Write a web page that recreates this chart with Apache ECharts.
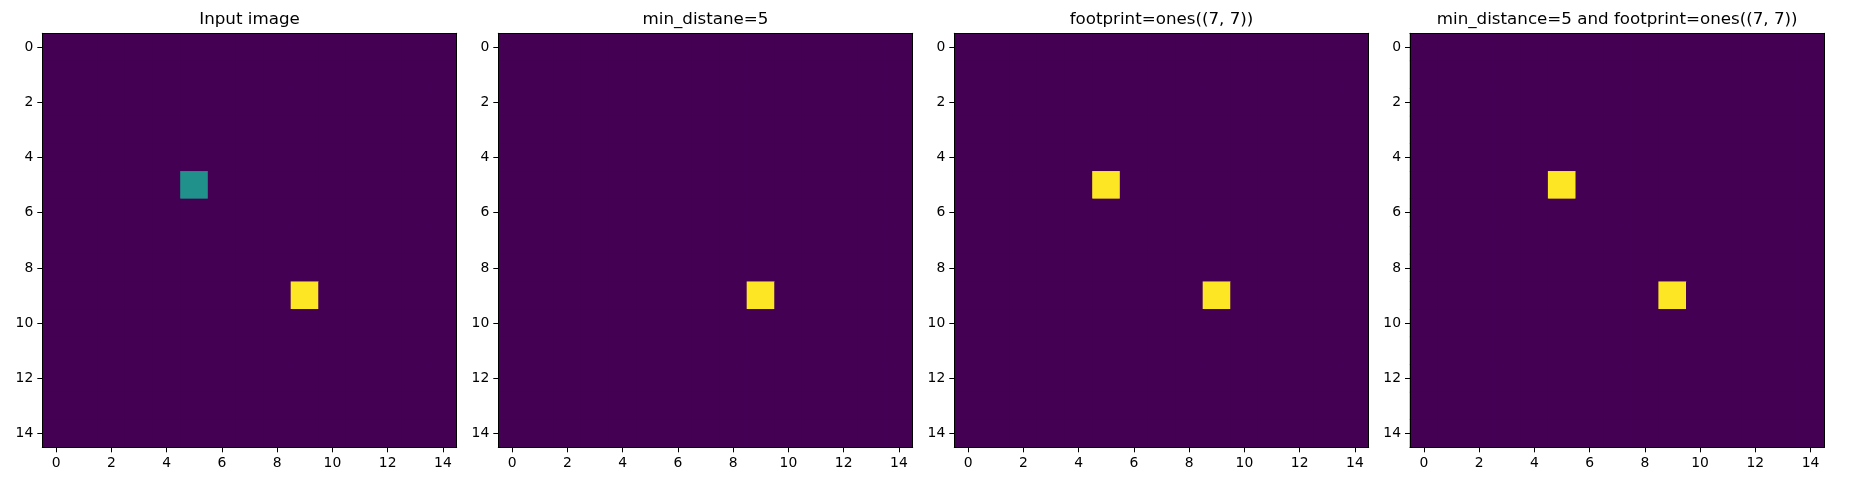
<!DOCTYPE html>
<html>
<head>
<meta charset="utf-8">
<script src="https://cdn.jsdelivr.net/npm/echarts@6/dist/echarts.min.js"></script>
<style>
  html, body { margin: 0; padding: 0; background: #fff; }
  #chart { width: 1861px; height: 480px; }
</style>
</head>
<body>
<div id="chart"></div>
<script>
// ---- Data ----
const colLabels = ['0','1','2','3','4','5','6','7','8','9','10','11','12','13','14'];
const rowLabels = ['0','1','2','3','4','5','6','7','8','9','10','11','12','13','14'];
const panelTitles = ['Input image', 'min_distane=5', 'footprint=ones((7, 7))', 'min_distance=5 and footprint=ones((7, 7))'];
// non-zero pixels of each image: [col, row, value]; every other pixel is 0
const inputImageCells = [[5, 5, 1], [9, 9, 2]];
const minDistanceCells = [[9, 9, 1]];
const footprintCells = [[5, 5, 1], [9, 9, 1]];
const bothCells = [[5, 5, 1], [9, 9, 1]];
const panelCells = [inputImageCells, minDistanceCells, footprintCells, bothCells];
const panelMax = [2, 1, 1, 1];

// ---- Layout / style ----
const viridis = ['#440154','#472d7b','#3b528b','#2c728e','#21918c','#28ae80','#5ec962','#addc30','#fde725'];
const panelLefts = [42.3, 498.3, 954.3, 1410];
const panelWidth = 414.4;
const panelTop = 33.3;
const panelHeight = 414;
const font = 'DejaVu Sans';

function buildImage(cells) {
  const data = [];
  for (let r = 0; r < rowLabels.length; r++) {
    for (let c = 0; c < colLabels.length; c++) {
      let v = 0;
      cells.forEach(p => { if (p[0] === c && p[1] === r) v = p[2]; });
      data.push([c, r, v]);
    }
  }
  return data;
}

const grid = [], xAxis = [], yAxis = [], series = [], visualMap = [], title = [];
panelLefts.forEach((left, i) => {
  grid.push({ left: left, top: panelTop, width: panelWidth, height: panelHeight,
              show: true, backgroundColor: viridis[0], borderWidth: 0, containLabel: false });
  title.push({ text: panelTitles[i], left: left + panelWidth / 2, top: 11, padding: 0, textAlign: 'center',
               textStyle: { fontFamily: font, fontSize: 16.7, fontWeight: 'normal', color: '#000' } });
  const tickCommon = { show: true, interval: 1, alignWithLabel: true, length: 5, inside: false,
                       lineStyle: { color: '#000', width: 1 } };
  const labelCommon = { show: true, interval: 1, fontFamily: font, fontSize: 13.9, color: '#000', margin: 9 };
  xAxis.push({ type: 'category', gridIndex: i, data: colLabels, position: 'bottom', z: 10,
               axisLine: { show: true, onZero: false, lineStyle: { color: '#000', width: 1 } },
               axisTick: tickCommon, axisLabel: labelCommon, splitLine: { show: false } });
  xAxis.push({ type: 'category', gridIndex: i, data: colLabels, position: 'top', z: 10,
               axisLine: { show: true, onZero: false, lineStyle: { color: '#000', width: 1 } },
               axisTick: { show: false }, axisLabel: { show: false }, splitLine: { show: false } });
  yAxis.push({ type: 'category', gridIndex: i, data: rowLabels, inverse: true, position: 'left', z: 10,
               axisLine: { show: true, onZero: false, lineStyle: { color: '#000', width: 1 } },
               axisTick: tickCommon, axisLabel: labelCommon, splitLine: { show: false } });
  yAxis.push({ type: 'category', gridIndex: i, data: rowLabels, inverse: true, position: 'right', z: 10,
               axisLine: { show: true, onZero: false, lineStyle: { color: '#000', width: 1 } },
               axisTick: { show: false }, axisLabel: { show: false }, splitLine: { show: false } });
  series.push({ type: 'heatmap', xAxisIndex: 2 * i, yAxisIndex: 2 * i, data: buildImage(panelCells[i]),
                itemStyle: { borderWidth: 0 }, emphasis: { disabled: true }, progressive: 0 });
  visualMap.push({ type: 'continuous', show: false, seriesIndex: i, dimension: 2,
                   min: 0, max: panelMax[i], inRange: { color: viridis } });
});

const chart = echarts.init(document.getElementById('chart'), null, { renderer: 'canvas' });
chart.setOption({ animation: false, backgroundColor: '#fff', title, grid, xAxis, yAxis, series, visualMap });
</script>
</body>
</html>
